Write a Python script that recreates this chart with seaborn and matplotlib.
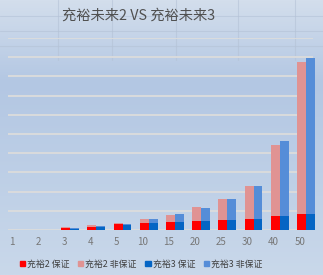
import numpy as np
import pandas as pd
import matplotlib
matplotlib.use('Agg')
import matplotlib.pyplot as plt
import matplotlib.transforms as mtransforms
from matplotlib.patches import Patch
from matplotlib.colors import LinearSegmentedColormap
import seaborn as sns

# 数据
years = ['1', '2', '3', '4', '5', '10', '15', '20', '25', '30', '40', '50']
g2 = [0, 0, 1.8, 3.1, 6.3, 7.3, 8.3, 9.7, 10.7, 11.8, 14.6, 16.7]
ng2 = [0, 0, 1.0, 2.1, 1.0, 4.5, 7.6, 14.3, 21.6, 34.3, 74.3, 158.3]
g3 = [0, 0, 1.4, 3.1, 5.7, 7.3, 8.3, 9.7, 10.7, 11.8, 14.6, 16.7]
ng3 = [0, 0, 1.0, 1.1, 0.6, 4.5, 8.7, 13.5, 21.6, 34.3, 78.4, 162.8]
series = ['充裕2', '充裕3']
legend_labels = ['充裕2 保证', '充裕2 非保证', '充裕3 保证', '充裕3 非保证']

c_red, c_pink, c_blue, c_lblue = '#ff0000', '#e09393', '#0565c4', '#558dd8'

df = pd.DataFrame({
    'year': years * 2,
    'series': [series[0]] * len(years) + [series[1]] * len(years),
    'g': g2 + g3,
    'total': list(np.add(g2, ng2)) + list(np.add(g3, ng3)),
})

sns.set_style('white')
plt.rcParams['font.family'] = ['Noto Sans CJK SC', 'DejaVu Sans']

fig = plt.figure(figsize=(3.23, 2.75), dpi=100)

# 背景渐变
bg = fig.add_axes([0, 0, 1, 1], zorder=-5)
cmap = LinearSegmentedColormap.from_list('bg', [(0, '#d3deec'), (0.3, '#b3c7e3'), (1, '#c9d8ea')])
bg.imshow(np.linspace(0, 1, 256).reshape(-1, 1), aspect='auto', cmap=cmap, extent=[0, 323, 275, 0])
for x in [58, 112, 176, 238, 295]:
    bg.plot([x, x], [0, 60], color='#b4c2d6', lw=0.8, alpha=0.6)
for y in [16, 31, 46]:
    bg.plot([0, 323], [y, y], color='#b4c2d6', lw=0.8, alpha=0.6)
bg.set_xlim(0, 323)
bg.set_ylim(275, 0)
bg.axis('off')

ax = fig.add_axes([8 / 323, 45 / 275, 305 / 323, 192 / 275])
ax.set_facecolor('none')

sns.barplot(data=df, x='year', y='total', hue='series', order=years, hue_order=series,
            palette=[c_pink, c_lblue], width=0.68, saturation=1, errorbar=None, ax=ax, legend=False)
sns.barplot(data=df, x='year', y='g', hue='series', order=years, hue_order=series,
            palette=[c_red, c_blue], width=0.68, saturation=1, errorbar=None, ax=ax, legend=False)
for p in ax.patches:
    p.set_linewidth(0)
    p.set_clip_on(False)

ax.set_xlim(-0.37, 11.27)
ax.set_ylim(0, 200)
ax.set_yticks(np.arange(0, 201, 20))
ax.yaxis.grid(True, color='#dcdcdc', lw=1.3)
ax.set_axisbelow(True)
ax.tick_params(axis='y', left=False, labelleft=False)
ax.tick_params(axis='x', length=0, pad=5, labelsize=7, labelcolor='#777777')
for s in ax.spines.values():
    s.set_visible(False)
ax.set_xlabel('')
ax.set_ylabel('')
off = mtransforms.ScaledTranslation(-0.06, 0, fig.dpi_scale_trans)
for lab in ax.get_xticklabels():
    lab.set_transform(lab.get_transform() + off)

fig.text(139 / 323, 1 - 16 / 275, '充裕未来2 VS 充裕未来3', ha='center', va='center',
         fontsize=10.3, color='#505050')

handles = [Patch(color=c) for c in [c_red, c_pink, c_blue, c_lblue]]
fig.legend(handles, legend_labels, loc='center', bbox_to_anchor=(141 / 323, 1 - 264 / 275),
           ncol=4, fontsize=6.4, frameon=False, handlelength=0.6, handleheight=0.6,
           handletextpad=0.2, columnspacing=1.0, labelcolor='#404040')

fig.savefig('out.png', dpi=100)
